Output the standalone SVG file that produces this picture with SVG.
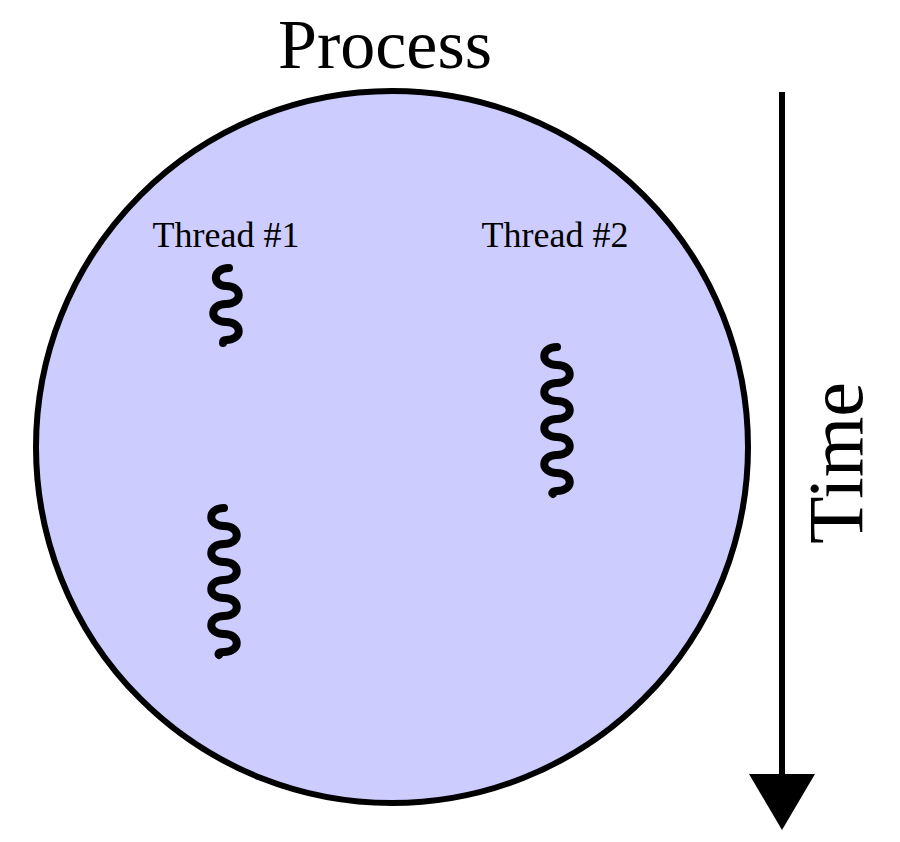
<svg xmlns="http://www.w3.org/2000/svg" width="900" height="842" viewBox="0 0 900 842">
<style>
.t{font-family:"Liberation Serif",serif;fill:#000}
.sq{fill:none;stroke:#000;stroke-width:8;stroke-linecap:round}
</style>
<rect width="900" height="842" fill="#fff"/>
<g id="process">
<circle cx="392" cy="447" r="356" fill="#ccccff" stroke="#000" stroke-width="6"/>
<text class="t" x="385" y="68" font-size="70" text-anchor="middle">Process</text>
</g>
<g id="thread1">
<text class="t" x="226" y="247" font-size="36" text-anchor="middle">Thread #1</text>
<path class="sq" d="M229,268 c-17,0 -17,18 -3,18 c17,0 17,18 0,18 c-17,0 -17,18 0,18 c17,0 17,18 0,18 c-3,0 -3,2 -3,3"/>
<path class="sq" d="M224,508 c-17,0 -17,18 0,18 c17,0 17,18 0,18 c-17,0 -17,18 0,18 c17,0 17,18 0,18 c-17,0 -17,18 0,18 c17,0 17,18 0,18 c-17,0 -17,18 0,18 c17,0 17,18 0,18 c-6,0 -6,2 -5,3"/>
</g>
<g id="thread2">
<text class="t" x="555" y="247" font-size="36" text-anchor="middle">Thread #2</text>
<path class="sq" d="M557,347 c-17,0 -17,18 0,18 c17,0 17,18 0,18 c-17,0 -17,18 0,18 c17,0 17,18 0,18 c-17,0 -17,18 0,18 c17,0 17,18 0,18 c-17,0 -17,18 0,18 c17,0 17,18 0,18 c-5,0 -5,2 -4,3"/>
</g>
<g id="connectors">
<line x1="782" y1="92" x2="782" y2="778" stroke="#000" stroke-width="6"/>
<polygon points="749,774 815,774 782,830" fill="#000"/>
</g>
<g id="time">
<text class="t" x="0" y="0" font-size="78" text-anchor="middle" transform="translate(862,463) rotate(-90)">Time</text>
</g>
</svg>
